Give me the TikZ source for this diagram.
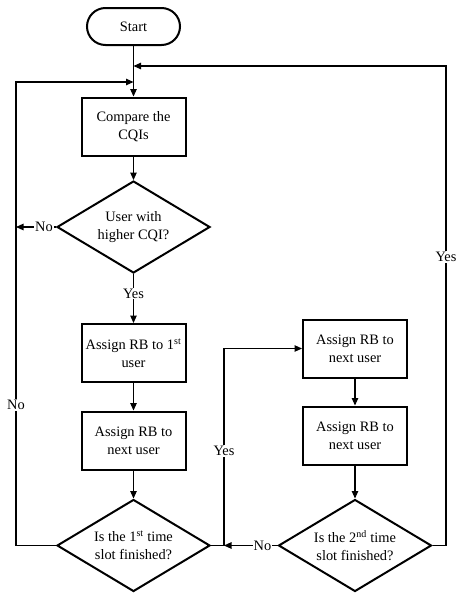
\documentclass[tikz,border=0pt]{standalone}
\usepackage{fontspec}
\setmainfont{Liberation Serif}
\usetikzlibrary{shapes.geometric,arrows.meta}
\begin{document}
\begin{tikzpicture}[x=1pt,y=-1pt,
 font=\fontsize{14.4}{18}\selectfont,
 procbox/.style={draw,line width=2pt,minimum width=104pt,minimum height=58pt,align=center,inner sep=0pt},
 decision/.style={draw,diamond,line width=2pt,aspect=1.66,minimum width=153pt,minimum height=92pt,align=center,inner sep=0pt},
 term/.style={draw,line width=2pt,rounded corners=18.5pt,minimum width=93pt,minimum height=37pt,inner sep=0pt},
 conn/.style={line width=1.1pt},
 arrow/.style={conn,-{Triangle[length=7.5pt,width=6.5pt]}},
 lbl/.style={fill=white,inner sep=1pt}]
\useasboundingbox (0,0) rectangle (467,600);
\node[term] (start) at (133.5,26.5) {Start};
\node[procbox] (cmp) at (133.5,126.5) {Compare the\\CQIs};
\node[decision] (d1) at (133.5,227) {User with\\higher CQI?};
\node[procbox] (b2) at (133.5,353) {Assign RB to 1\textsuperscript{st}\\user};
\node[procbox] (b3) at (133.5,440.5) {Assign RB to\\next user};
\node[decision] (d2) at (133.5,545.5) {Is the 1\textsuperscript{st} time\\slot finished?};
\node[procbox] (b4) at (355,348.5) {Assign RB to\\next user};
\node[procbox] (b5) at (355,435.5) {Assign RB to\\next user};
\node[decision] (d3) at (355,545.5) {Is the 2\textsuperscript{nd} time\\slot finished?};
\coordinate (j0) at (133.5,66);
\coordinate (j1) at (133.5,82);
\coordinate (lx) at (16,82);
\coordinate (rx) at (224,348.5);
\coordinate (tr) at (446,66);
\draw[arrow] (start) -- (cmp);
\draw[arrow] (cmp) -- (d1);
\draw[arrow] (d1) -- node[lbl,pos=0.4] (y1) {Yes} (b2);
\draw[arrow] (b2) -- (b3);
\draw[arrow] (b3) -- (d2);
\draw[arrow] (d1.west) -- node[lbl,pos=0.3] (n1) {No} (d1.west -| lx);
\draw[arrow] (d2.west) -| (lx) -- (j1);
\node[lbl] (n2) at (16,405) {No};
\draw[arrow] (d2.east) -| (rx) -- (b4.west);
\node[lbl] (y2) at (224,451) {Yes};
\draw[arrow] (b4) -- (b5);
\draw[arrow] (b5) -- (d3);
\draw[arrow] (d3.west) -- node[lbl,pos=0.28] (n3) {No} (d2.east -| rx);
\draw[arrow] (d3.east) -| (tr) -- (j0);
\node[lbl] (y3) at (446,257) {Yes};
\end{tikzpicture}
\end{document}
